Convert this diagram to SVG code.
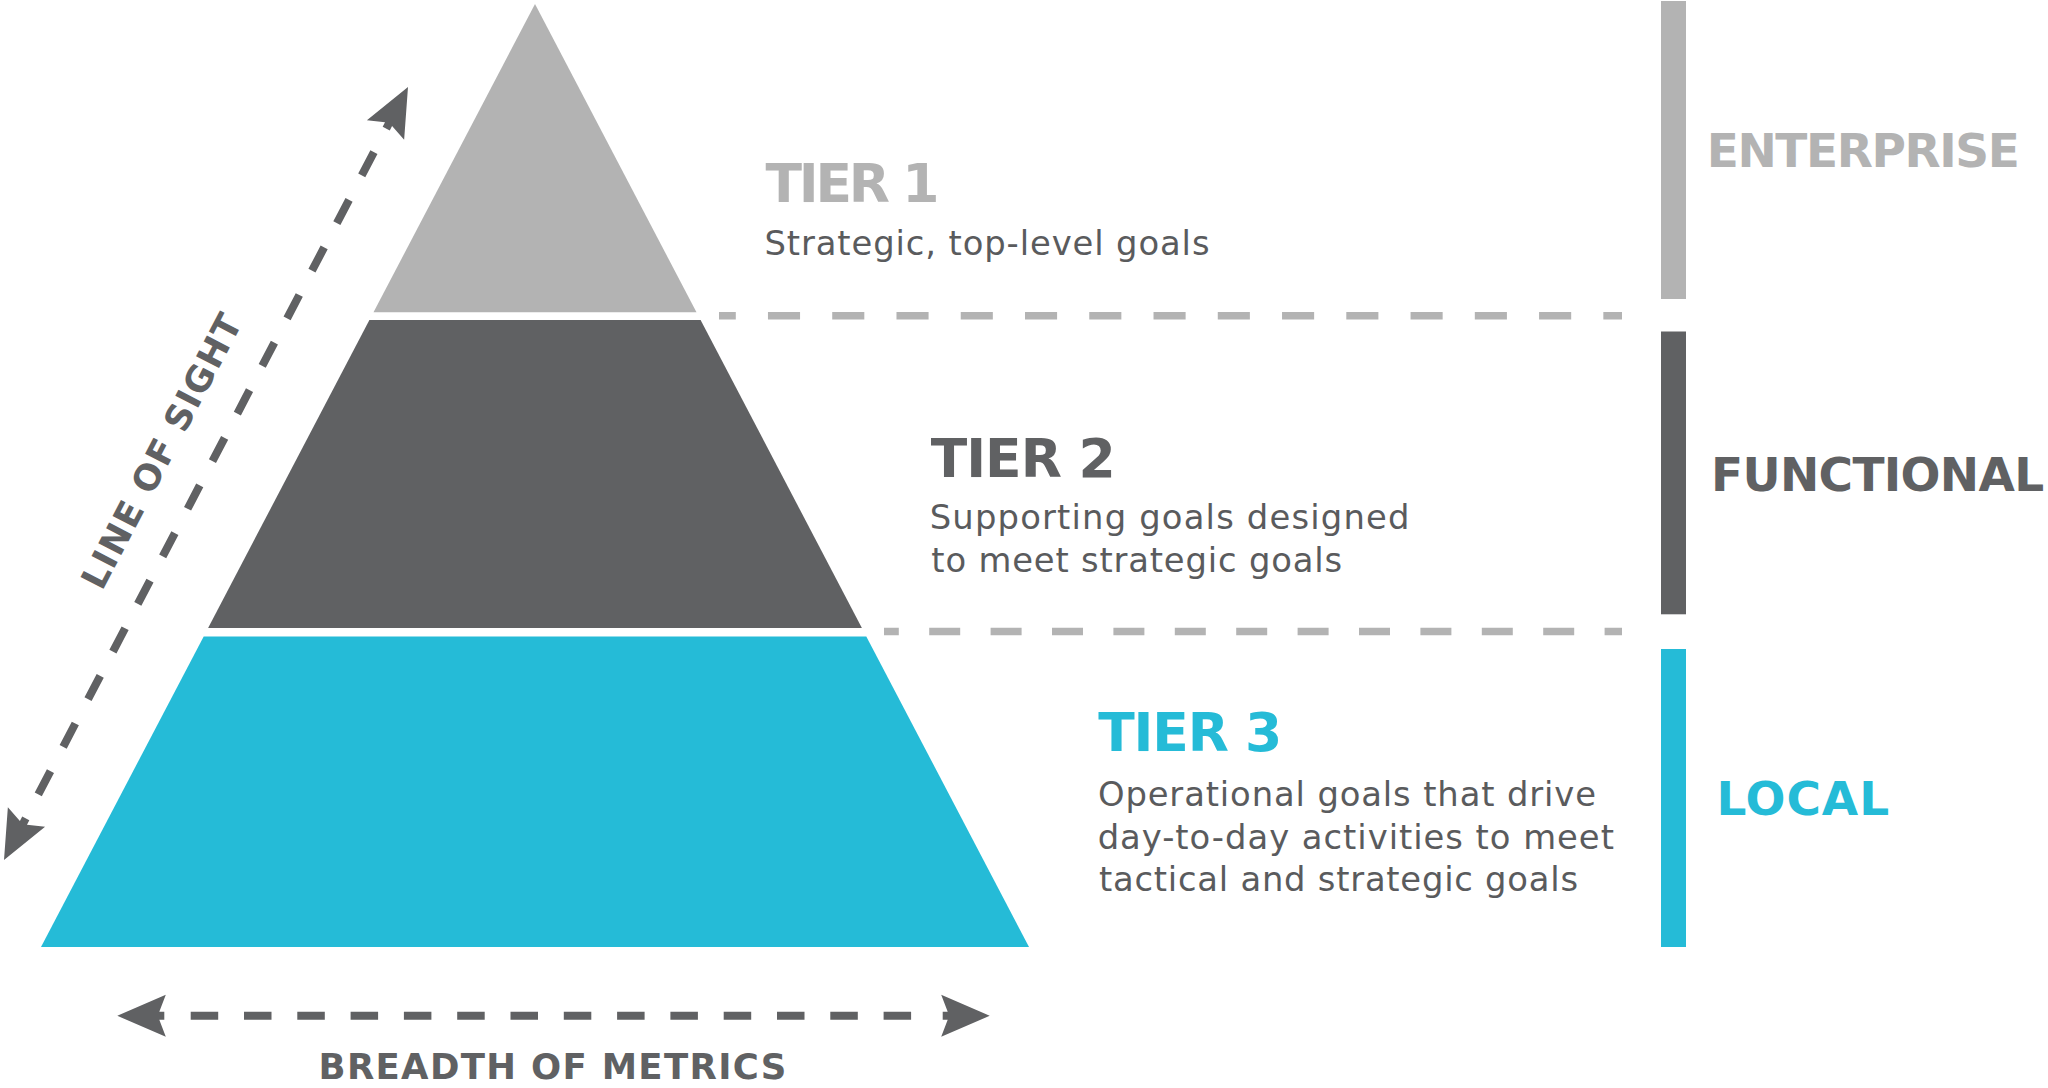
<svg xmlns="http://www.w3.org/2000/svg" width="2048" height="1088" viewBox="0 0 2048 1088">
<style>
.h{font-family:"DejaVu Sans","Liberation Sans",sans-serif;font-weight:700}
.b{font-family:"DejaVu Sans","Liberation Sans",sans-serif;font-weight:400;font-size:33.8px;fill:#5a5b5d}
.lt{fill:#b3b3b3}
.dk{fill:#606163}
.bl{fill:#25bbd7}
.sep{stroke:#b3b3b3;stroke-width:7.5;fill:none}
.arr{stroke:#606163;stroke-width:8;fill:none}
</style>
<defs>
<polygon id="ah" points="0,0 -48.5,-21 -42,-4 -47,-4 -47,4 -42,4 -48.5,21" fill="#606163"/>
</defs>
<rect width="2048" height="1088" fill="#ffffff"/>
<g id="tier1">
<polygon class="lt" points="535,4 696.5,312.3 373.5,312.3"/>
<text class="h lt" x="765.5" y="201.5" font-size="53.5" textLength="174">TIER 1</text>
<text class="b" x="764.5" y="255" textLength="445">Strategic, top-level goals</text>
</g>
<g id="tier2">
<polygon class="dk" points="369.4,320 700.6,320 861.9,628 208.1,628"/>
<text class="h dk" x="930.7" y="476.5" font-size="53.5" textLength="185">TIER 2</text>
<text class="b" x="929.7" y="529" textLength="479.7">Supporting goals designed</text>
<text class="b" x="931.3" y="571.5" textLength="410.7">to meet strategic goals</text>
</g>
<g id="tier3">
<polygon class="bl" points="203.7,636.4 866.3,636.4 1029,947 41,947"/>
<text class="h bl" x="1098.3" y="750.7" font-size="53.5" textLength="184">TIER 3</text>
<text class="b" x="1097.9" y="806" textLength="498.1">Operational goals that drive</text>
<text class="b" x="1097.7" y="848.5" textLength="516.2">day-to-day activities to meet</text>
<text class="b" x="1099" y="891" textLength="479">tactical and strategic goals</text>
</g>
<g id="enterprise">
<rect class="lt" x="1661" y="1" width="25" height="298"/>
<text class="h lt" x="1706.8" y="167" font-size="47" textLength="313">ENTERPRISE</text>
</g>
<g id="functional">
<rect class="dk" x="1661" y="331.5" width="25" height="282.8"/>
<text class="h dk" x="1711.1" y="490.6" font-size="47" textLength="333">FUNCTIONAL</text>
</g>
<g id="local">
<rect class="bl" x="1661" y="649" width="25" height="298"/>
<text class="h bl" x="1716.4" y="815.4" font-size="47" textLength="172.7">LOCAL</text>
</g>
<g id="connectors">
<line class="sep" x1="719" y1="315.7" x2="1622" y2="315.7" stroke-dasharray="32.1 32.16" stroke-dashoffset="15.3"/>
<line class="sep" x1="884" y1="631.5" x2="1622" y2="631.5" stroke-dasharray="31 30.4" stroke-dashoffset="16.2"/>
<line class="arr" x1="38.28" y1="794.41" x2="373.95" y2="152.12" stroke-dasharray="26.3 27.42"/>
<use href="#ah" transform="translate(408,87) rotate(-62.4)"/>
<use href="#ah" transform="translate(4,860) rotate(117.6)"/>
<line class="arr" x1="190.7" y1="1015.8" x2="911.1" y2="1015.8" stroke-dasharray="27.5 25.8"/>
<use href="#ah" transform="translate(117.3,1015.8) rotate(180)"/>
<use href="#ah" transform="translate(989.7,1015.8)"/>
</g>
<g id="line-of-sight-label">
<text class="h dk" font-size="35.5" text-anchor="middle" x="0" y="13" textLength="304" transform="translate(161,451) rotate(-62.4)">LINE OF SIGHT</text>
</g>
<g id="breadth-label">
<text class="h dk" font-size="35.5" x="318.5" y="1079" textLength="467.8">BREADTH OF METRICS</text>
</g>
</svg>
